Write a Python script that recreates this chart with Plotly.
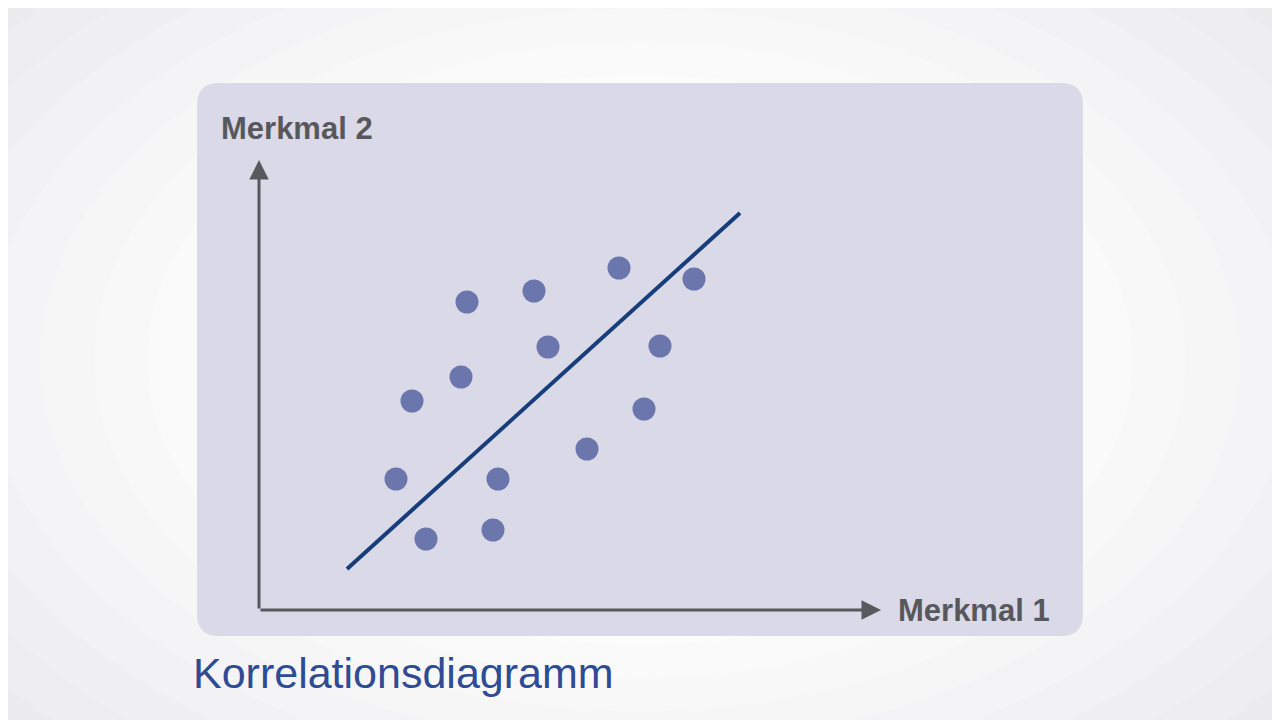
import plotly.graph_objects as go

# data (units: origin at axis corner)
px_x = [20.8, 27.5, 36.0, 43.5, 28.9, 40.1, 20.2, 15.3, 38.5, 32.8, 13.7, 23.9, 16.7, 23.4]
px_y = [30.8, 31.9, 34.2, 33.1, 26.3, 26.4, 23.3, 20.9, 20.1, 16.1, 13.1, 13.1, 7.1, 8.0]
trend_x = [8.8, 48.1]
trend_y = [4.1, 39.7]
x_label = "Merkmal 1"
y_label = "Merkmal 2"
title = "Korrelationsdiagramm"

OFF = 8  # page body margin compensation (px)
XR = [-25.9 + OFF / 10, 102.1 + OFF / 10]
YR = [-11.0 - OFF / 10, 61.0 - OFF / 10]
W, H = 1280, 720
dx, dy = -OFF / W, OFF / H

fig = go.Figure()
fig.add_trace(go.Scatter(x=trend_x, y=trend_y, mode="lines",
                         line=dict(color="#173d7a", width=4), hoverinfo="skip"))
fig.add_trace(go.Scatter(x=px_x, y=px_y, mode="markers",
                         marker=dict(size=23, color="#6a76ac"), hoverinfo="skip"))

shapes = []
steps = 14
for i in range(steps):
    t = i / (steps - 1)
    c = int(228 + (255 - 228) * t)
    cb = int(232 + (255 - 232) * t)
    sx = 0.85 - 0.55 * t
    sy = 0.95 - 0.6 * t
    shapes.append(dict(type="circle", xref="paper", yref="paper", layer="below",
                       x0=0.5 - sx + dx, x1=0.5 + sx + dx, y0=0.5 - sy + dy, y1=0.5 + sy + dy,
                       fillcolor=f"rgb({c},{c},{cb})", line=dict(width=0)))
x0, x1, y0, y1, r = 197 / W + dx, 1083 / W + dx, 1 - 636 / H + dy, 1 - 83 / H + dy, 22
rx, ry = r / W, r / H
path = (f"M {x0+rx},{y0} L {x1-rx},{y0} Q {x1},{y0} {x1},{y0+ry} L {x1},{y1-ry} "
        f"Q {x1},{y1} {x1-rx},{y1} L {x0+rx},{y1} Q {x0},{y1} {x0},{y1-ry} "
        f"L {x0},{y0+ry} Q {x0},{y0} {x0+rx},{y0} Z")
shapes.append(dict(type="path", path=path, xref="paper", yref="paper", layer="below",
                   fillcolor="#d9d9e7", line=dict(width=0)))

lab_font = dict(family="Liberation Sans Narrow, Liberation Sans", size=31, color="#58585c", weight="bold")
ann = [
    dict(x=62.2, y=0, ax=0, ay=0, xref="x", yref="y", axref="x", ayref="y",
         showarrow=True, arrowhead=2, arrowsize=1.3, arrowwidth=3, arrowcolor="#59595d", text=""),
    dict(x=0, y=45, ax=0, ay=0, xref="x", yref="y", axref="x", ayref="y",
         showarrow=True, arrowhead=2, arrowsize=1.3, arrowwidth=3, arrowcolor="#59595d", text=""),
    dict(x=63.7, y=0, xref="x", yref="y", text=x_label, showarrow=False, xanchor="left", font=lab_font),
    dict(x=-4.0, y=48.2, xref="x", yref="y", text=y_label, showarrow=False, xanchor="left", font=lab_font),
    dict(x=-6.8, y=-6.3, xref="x", yref="y", text=title, showarrow=False, xanchor="left",
         font=dict(family="Liberation Sans, Arial", size=43, color="#2f4b94")),
]

fig.update_layout(width=1280, height=720, margin=dict(l=0, r=0, t=0, b=0),
                  paper_bgcolor="#e4e4ea", plot_bgcolor="rgba(0,0,0,0)",
                  showlegend=False, shapes=shapes, annotations=ann,
                  xaxis=dict(range=XR, visible=False, fixedrange=True),
                  yaxis=dict(range=YR, visible=False, fixedrange=True))
fig.write_html("out.html")
